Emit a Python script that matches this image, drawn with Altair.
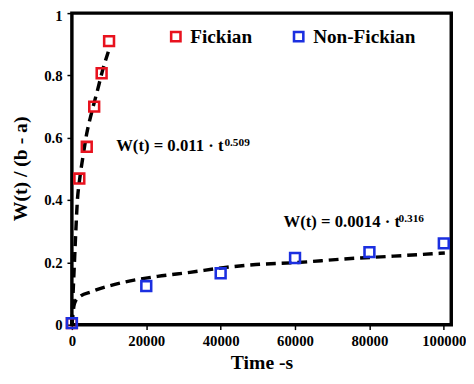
import altair as alt
import pandas as pd

# Data points
fick_t = [0, 2000, 4000, 6000, 8000, 10000]
fick_w = [0.005, 0.469, 0.571, 0.70, 0.807, 0.91]
nonfick_t = [0, 20000, 40000, 60000, 80000, 100000]
nonfick_w = [0.005, 0.124, 0.165, 0.214, 0.233, 0.261]

# Fitted dashed curves
fick_curve_t = [0, 265, 660, 1060, 1455, 2115, 2910, 3970, 5290, 6880, 8200, 9790]
fick_curve_w = [0.0, 0.084, 0.193, 0.301, 0.394, 0.469, 0.534, 0.612, 0.680, 0.752, 0.814, 0.876]
nonfick_curve_t = [0, 265, 530, 1060, 2115, 5290, 14290, 23020, 31750, 40740, 49470,
                   60050, 73280, 86510, 100270]
nonfick_curve_w = [0.0, 0.028, 0.059, 0.078, 0.090, 0.106, 0.137, 0.155, 0.168, 0.183,
                   0.193, 0.199, 0.211, 0.220, 0.230]

series_names = ["Fickian", "Non-Fickian"]
series_colors = ["#e8121e", "#1b2fe0"]

ann_main = ["W(t) = 0.011 \u00b7 t", "W(t) = 0.0014 \u00b7 t"]
ann_main_x = [11905, 56880]
ann_main_y = [0.558, 0.312]
ann_sup = ["0.509", "0.316"]
ann_sup_x = [41000, 87830]
ann_sup_y = [0.574, 0.328]

FONT = "Liberation Serif"

pts = pd.DataFrame({
    "t": fick_t + nonfick_t,
    "w": fick_w + nonfick_w,
    "series": ["Fickian"] * len(fick_t) + ["Non-Fickian"] * len(nonfick_t),
})
curves = pd.DataFrame({
    "t": fick_curve_t + nonfick_curve_t,
    "w": fick_curve_w + nonfick_curve_w,
    "curve": ["F"] * len(fick_curve_t) + ["N"] * len(nonfick_curve_t),
})
main_df = pd.DataFrame({"x": ann_main_x, "y": ann_main_y, "txt": ann_main})
sup_df = pd.DataFrame({"x": ann_sup_x, "y": ann_sup_y, "txt": ann_sup})

xscale = alt.Scale(domain=[0, 102000], nice=False, zero=False)
yscale = alt.Scale(domain=[0, 1], nice=False)

xaxis = alt.Axis(values=[0, 20000, 40000, 60000, 80000, 100000], format="d",
                 title="Time -s", titleFontSize=20, titleX=193, titleY=39,
                 titleBaseline="middle", titleAlign="center",
                 labelFlush=False, labelOverlap=False, labelPadding=4)
yaxis = alt.Axis(values=[0, 0.2, 0.4, 0.6, 0.8, 1], format="~g",
                 title="W(t) / (b - a)", titleFontSize=20, titleX=-52, titleY=158,
                 titleAngle=-90, titleBaseline="middle", titleAlign="center",
                 labelFlush=False, labelOverlap=False, labelPadding=5,
                 labelOffset={"condition": {"test": "datum.value === 1", "value": 3},
                              "value": 0})

base_x = alt.X("t:Q", scale=xscale, axis=xaxis)
base_y = alt.Y("w:Q", scale=yscale, axis=yaxis)

lines = alt.Chart(curves).mark_line(
    color="black", strokeWidth=3.5, strokeDash=[10, 6], interpolate="monotone"
).encode(x=base_x, y=base_y, detail="curve:N")

points = alt.Chart(pts).mark_point(
    shape="square", filled=False, size=100, strokeWidth=2.6, opacity=1
).encode(
    x="t:Q", y="w:Q",
    color=alt.Color("series:N",
                    scale=alt.Scale(domain=series_names, range=series_colors),
                    legend=alt.Legend(title=None, orient="none", legendX=96, legendY=14,
                                      direction="horizontal", columns=2,
                                      symbolType="square", symbolSize=90,
                                      symbolStrokeWidth=2.6, symbolFillColor="white",
                                      labelFont=FONT, labelFontWeight="bold",
                                      labelFontSize=19.5, labelColor="black",
                                      labelOffset=5, columnPadding=36)),
    order=alt.Order("series:N"),
)

main_txt = alt.Chart(main_df).mark_text(
    align="left", baseline="alphabetic", font=FONT, fontWeight="bold", fontSize=17,
    color="black"
).encode(x="x:Q", y="y:Q", text="txt:N")

sup_txt = alt.Chart(sup_df).mark_text(
    align="left", baseline="alphabetic", font=FONT, fontWeight="bold", fontSize=11.5,
    color="black"
).encode(x="x:Q", y="y:Q", text="txt:N")

chart = alt.layer(lines, points, main_txt, sup_txt).properties(
    width=386, height=317,
    autosize=alt.AutoSizeParams(type="none"),
    padding={"left": 65, "top": 2, "right": 15, "bottom": 49},
).configure_view(
    stroke="black", strokeWidth=3.5
).configure_axis(
    grid=False, domain=False, ticks=True, tickColor="black", tickWidth=1.5, tickSize=5,
    labelFont=FONT, labelFontWeight="bold", labelFontSize=15, labelColor="black",
    titleFont=FONT, titleFontWeight="bold", titleColor="black",
)

chart.save("out.html", embed_options={"renderer": "svg", "actions": False})
